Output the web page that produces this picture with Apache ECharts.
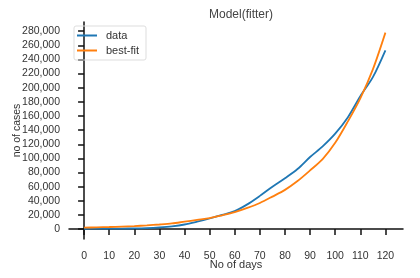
<!DOCTYPE html>
<html>
<head>
<meta charset="utf-8">
<script src="https://cdn.jsdelivr.net/npm/echarts@6/dist/echarts.min.js"></script>
<style>
  html, body { margin: 0; padding: 0; background: #fff; }
  #chart { width: 420px; height: 278px; }
</style>
</head>
<body>
<div id="chart"></div>
<script>
// days sampled every 5
const days = [0, 5, 10, 15, 20, 25, 30, 35, 40, 45, 50, 55, 60, 65, 70, 75, 80, 85, 90, 95, 100, 105, 110, 115, 120];
// observed cases
const dataCases = [500, 600, 700, 800, 1000, 1500, 2500, 4000, 6500, 10500, 15000, 20000, 25500, 35000, 47000, 60000, 72000, 85000, 102000, 117000, 135000, 158000, 188000, 215000, 253000];
// fitted curve
const fitCases = [2000, 2500, 3000, 3600, 4300, 5300, 6500, 8000, 10500, 13000, 15500, 19500, 24000, 30000, 37000, 46000, 55500, 68000, 83000, 99000, 122000, 152000, 185000, 226000, 278000];

const xTicks = [0, 10, 20, 30, 40, 50, 60, 70, 80, 90, 100, 110, 120];
const yTicks = [0, 20000, 40000, 60000, 80000, 100000, 120000, 140000, 160000, 180000, 200000, 220000, 240000, 260000, 280000];

const font = 'Liberation Sans, Arial, sans-serif';
const axisColor = '#111';

const chart = echarts.init(document.getElementById('chart'));

const option = {
    animation: false,
    title: {
        text: 'Model(fitter)',
        left: 204,
        top: 4,
        textStyle: { fontFamily: font, fontSize: 12, fontWeight: 'normal', color: '#444' }
    },
    legend: {
        orient: 'vertical',
        left: 74,
        top: 26,
        padding: [4, 7, 4, 3],
        borderColor: '#ddd',
        borderWidth: 1,
        borderRadius: 2,
        itemWidth: 20,
        itemHeight: 2,
        itemGap: 4,
        icon: 'rect',
        textStyle: { fontFamily: font, fontSize: 11, color: '#333', padding: [0, 0, 0, 4] },
        data: ['data', 'best-fit']
    },
    grid: { left: 69, right: 17, top: 22, bottom: 39, outerBoundsMode: 'none' },
    xAxis: {
        type: 'value',
        min: -6,
        max: 127,
        name: 'No of days',
        nameLocation: 'middle',
        nameGap: 20,
        nameMoveOverlap: false,
        nameTextStyle: { fontFamily: font, fontSize: 11, color: '#333' },
        splitLine: { show: false },
        axisLine: { lineStyle: { color: axisColor, width: 1.5 } },
        axisTick: { length: 6, customValues: xTicks, lineStyle: { color: axisColor, width: 1.5 } },
        axisLabel: { customValues: xTicks, margin: 12, fontFamily: font, fontSize: 10.5, color: '#333' }
    },
    yAxis: {
        type: 'value',
        min: -14000,
        max: 293000,
        name: 'no of cases',
        nameLocation: 'middle',
        nameGap: 46,
        nameMoveOverlap: false,
        nameTextStyle: { fontFamily: font, fontSize: 10.5, color: '#333' },
        splitLine: { show: false },
        axisLine: { show: true, lineStyle: { color: axisColor, width: 1.5 } },
        axisTick: { show: true, length: 6, customValues: yTicks, lineStyle: { color: axisColor, width: 1.5 } },
        axisLabel: {
            customValues: yTicks,
            margin: 9,
            fontFamily: font,
            fontSize: 10.5,
            color: '#333',
            formatter: v => v.toLocaleString('en-US')
        }
    },
    series: [
        {
            name: 'data',
            type: 'line',
            data: days.map((d, i) => [d, dataCases[i]]),
            showSymbol: false,
            smooth: 0.3,
            color: '#1f77b4',
            lineStyle: { width: 1.8 }
        },
        {
            name: 'best-fit',
            type: 'line',
            data: days.map((d, i) => [d, fitCases[i]]),
            showSymbol: false,
            smooth: 0.3,
            color: '#ff7f0e',
            lineStyle: { width: 1.8 }
        }
    ]
};

chart.setOption(option);
</script>
</body>
</html>
